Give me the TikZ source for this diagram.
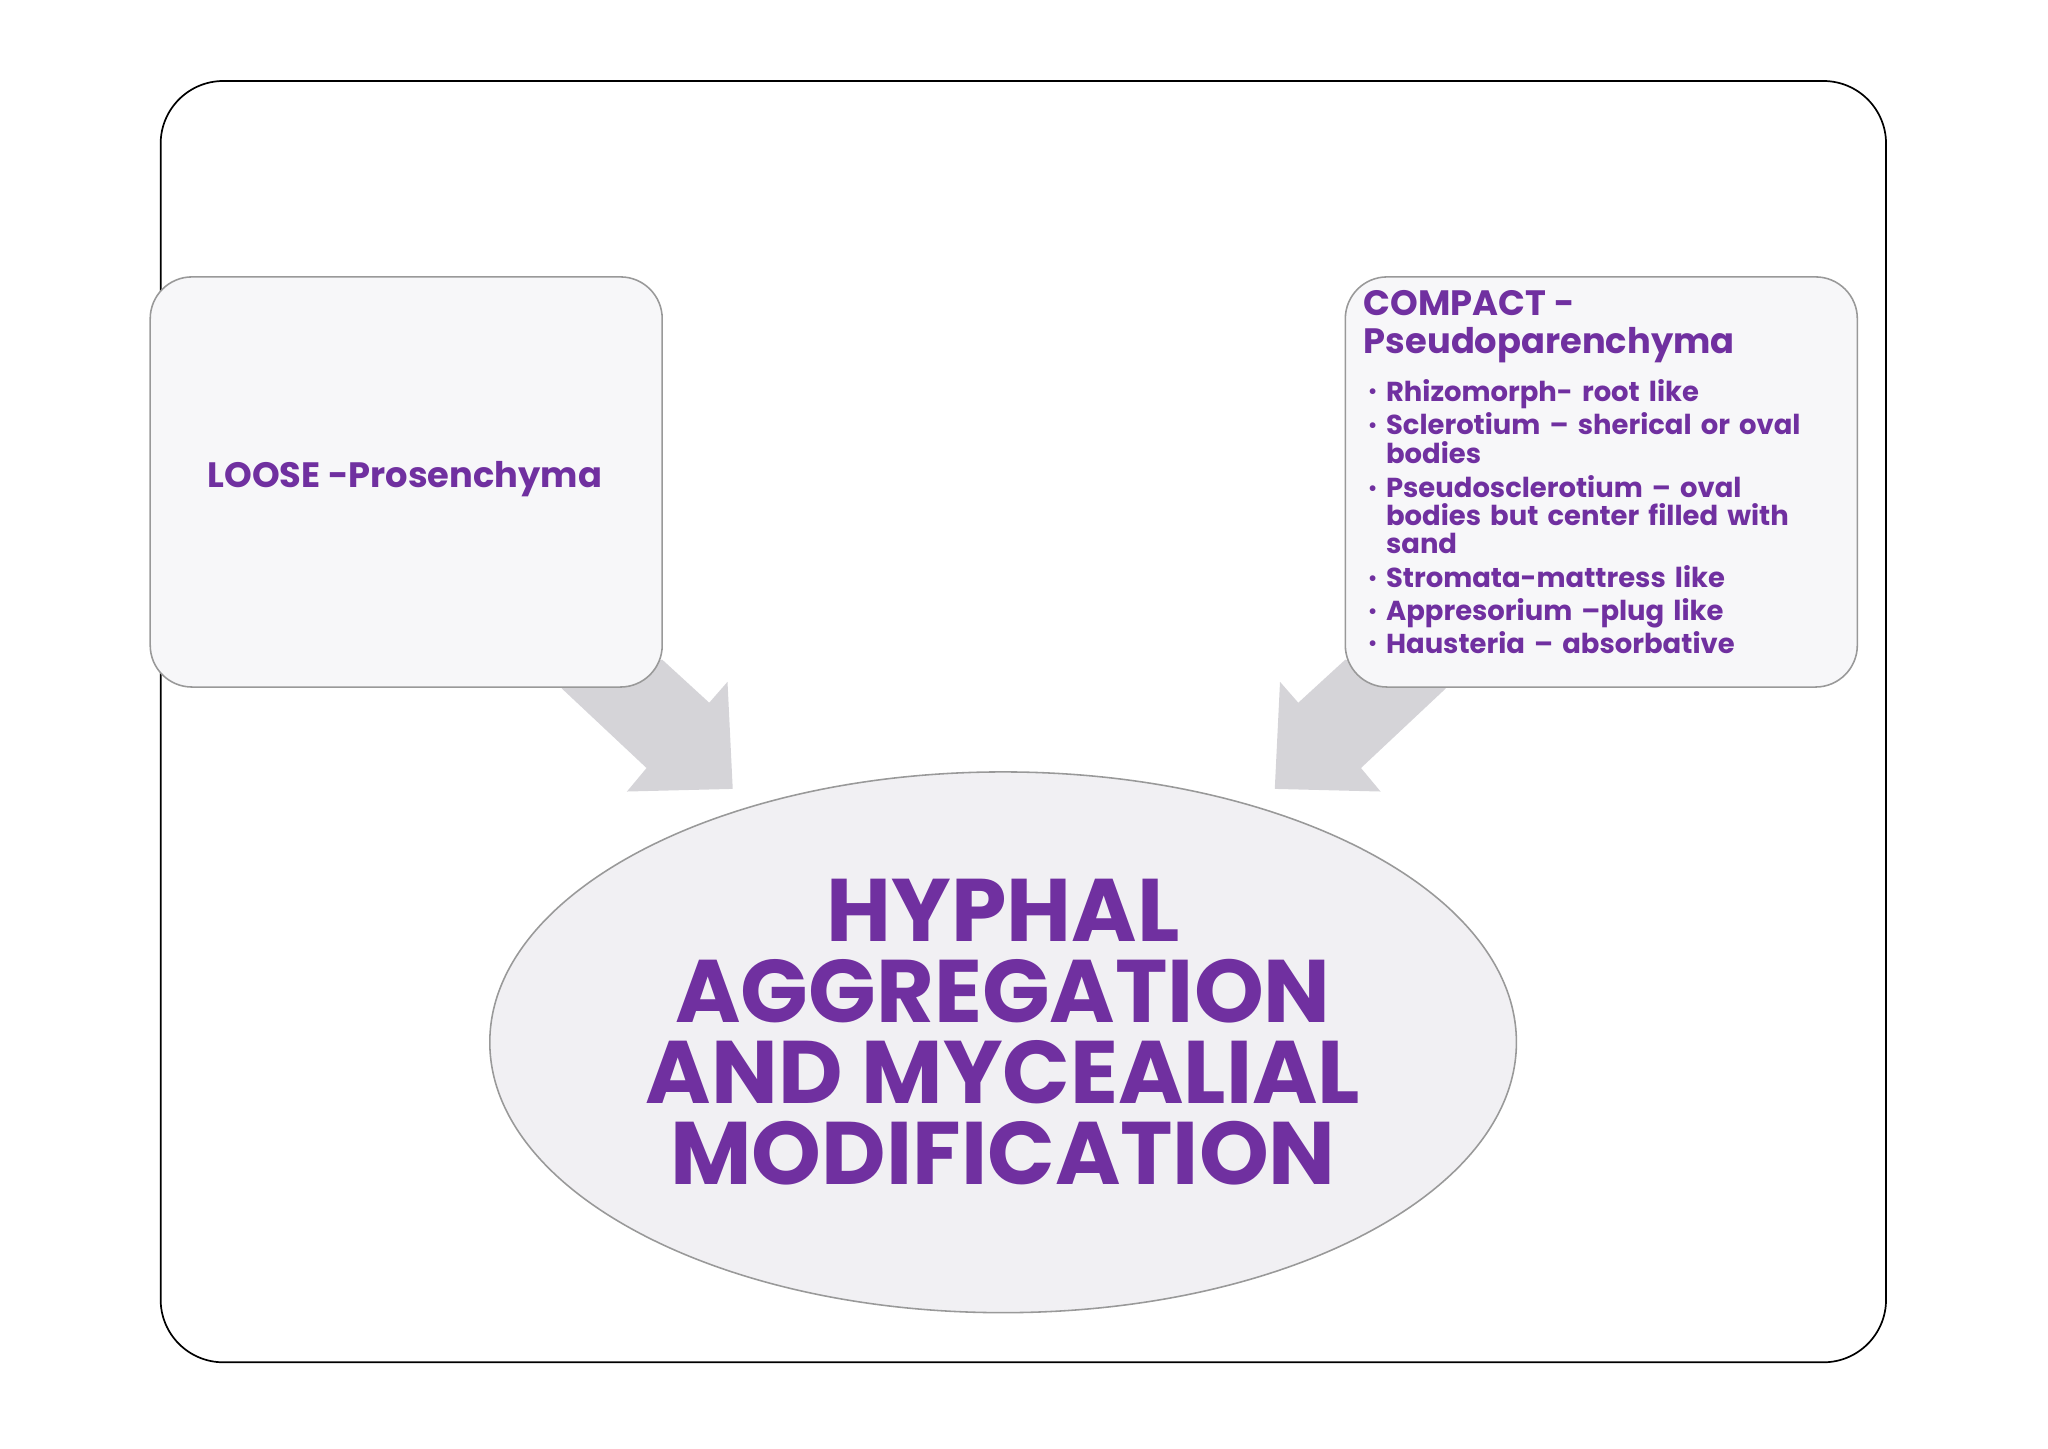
\documentclass[tikz,border=0pt]{standalone}
\usepackage{fontspec}
\setmainfont{Poppins}
\usetikzlibrary{shapes.geometric}
\definecolor{purp}{HTML}{7030A0}
\definecolor{boxfill}{HTML}{F7F7F9}
\definecolor{ellfill}{HTML}{F1F0F3}
\definecolor{arr}{HTML}{D5D4D8}
\begin{document}
\begin{tikzpicture}[x=1pt,y=-1pt,
  box/.style={draw=gray!80,line width=1.2pt,fill=boxfill,rounded corners=32pt},
  item/.style={anchor=north west,text width=330pt,align=left,text=purp,font=\fontsize{21}{21.5}\selectfont\bfseries,inner sep=0pt}]
\useasboundingbox (0,0) rectangle (1568,1109);
\draw[line width=1.3pt,rounded corners=48pt] (123,62) rectangle (1444,1043);
% arrows
\fill[arr] (430,527) -- (495,588) -- (480,606) -- (561,604) -- (557,522) -- (543,538) -- (507,505) -- cycle;
\fill[arr] (1107,527) -- (1042,588) -- (1057,606) -- (976,604) -- (980,522) -- (994,538) -- (1030,505) -- cycle;
\draw[box] (115,212) rectangle (507,526);
\draw[box] (1030,212) rectangle (1422,526);
\node[draw=gray!80,line width=1.2pt,fill=ellfill,ellipse,minimum width=786pt,minimum height=414pt] (e) at (768,798) {};
\node[text=purp,font=\fontsize{68}{62}\selectfont\bfseries,align=center] (t) at (768,790) {HYPHAL\\AGGREGATION\\AND MYCEALIAL\\MODIFICATION};
\node[text=purp,font=\fontsize{27}{30}\selectfont\bfseries] (l) at (310,367) {LOOSE -Prosenchyma};
\node[anchor=north west,text=purp,font=\fontsize{27}{29}\selectfont\bfseries,align=left,inner sep=0pt] (h) at (1044,222) {COMPACT -\\Pseudoparenchyma};
\foreach \y/\t in {290/Rhizomorph- root like,
                   316/{Sclerotium -- sherical or oval bodies},
                   364/{Pseudosclerotium -- oval bodies but center filled with sand},
                   433/Stromata-mattress like,
                   458/{Appresorium --plug like},
                   483/{Hausteria -- absorbative}}{
  \node[item] at (1061,\y) {\t};
  \node[text=purp,font=\fontsize{18}{18}\selectfont,inner sep=0pt] at (1051,\y+12) {•};
}
\end{tikzpicture}
\end{document}
